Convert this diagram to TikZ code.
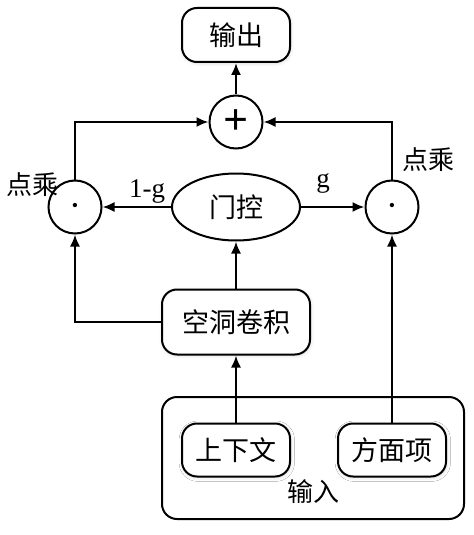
\documentclass[tikz,border=0pt]{standalone}
\usepackage{fontspec}
\setmainfont{Liberation Serif}
\newfontfamily\cjk{Noto Sans CJK SC}
\usetikzlibrary{arrows.meta,positioning,shapes.geometric,shadows.blur}
\tikzset{
  rbox/.style={rectangle,rounded corners=7.5pt,draw=black,line width=1pt,
               fill=white,inner sep=0pt,font=\cjk\fontsize{13.5}{15}\selectfont,
               blur shadow={shadow xshift=0.4pt,shadow yshift=-0.6pt,shadow blur steps=4,shadow opacity=15}},
  inbox/.style={rectangle,rounded corners=7.5pt,draw=black,line width=1pt,fill=white,
                minimum width=151pt,minimum height=61pt,inner sep=0pt},
  opnode/.style={circle,draw=black,line width=1pt,fill=white,minimum size=26.5pt,inner sep=0pt},
  gatenode/.style={ellipse,draw=black,line width=1pt,fill=white,minimum width=64pt,
                   minimum height=33.5pt,inner sep=0pt,font=\cjk\fontsize{13.5}{15}\selectfont},
  lbl/.style={font=\cjk\fontsize{13}{15}\selectfont,inner sep=1pt},
  glbl/.style={font=\fontsize{13.5}{15}\selectfont,inner sep=1.5pt},
  arr/.style={-{Latex[length=6pt,width=5pt]},line width=1pt},
}
\begin{document}
\begin{tikzpicture}[x=0.5pt,y=-0.5pt]
  \useasboundingbox (0,0) rectangle (474,535);
  % input group
  \node[inbox] (inp) at (313,458) {};
  \node[lbl] (inplbl) at (313,492) {输入};
  \node[rbox,minimum width=54pt,minimum height=26.5pt] (ctx) at (236,450) {上下文};
  \node[rbox,minimum width=54pt,minimum height=26.5pt] (asp) at (392,450) {方面项};
  % middle
  \node[rbox,minimum width=74pt,minimum height=32.5pt] (conv) at (236,322) {空洞卷积};
  \node[gatenode] (gate) at (236,207) {门控};
  \node[opnode] (ldot) at (75,207) {\small\textbullet};
  \node[opnode] (rdot) at (392,207) {\small\textbullet};
  \node[lbl] (lmul) at (32,185) {点乘};
  \node[lbl] (rmul) at (428,160) {点乘};
  % top
  \node[opnode] (plus) at (236,122) {\fontsize{22}{22}\selectfont\textbf{+}};
  \node[rbox,minimum width=54pt,minimum height=27pt] (out) at (236,35) {输出};
  % connectors
  \draw[arr] (ctx) -- (conv);
  \draw[arr] (asp) -- (rdot);
  \draw[arr] (conv) -- (gate);
  \draw[arr] (conv.west) -| (ldot.south);
  \draw[arr] (gate) -- node[glbl,above,pos=0.35] {1-g} (ldot);
  \draw[arr] (gate) -- node[glbl,above,pos=0.35,yshift=5pt] {g} (rdot);
  \draw[arr] (ldot.north) |- (plus.west);
  \draw[arr] (rdot.north) |- (plus.east);
  \draw[arr] (plus) -- (out);
\end{tikzpicture}
\end{document}
